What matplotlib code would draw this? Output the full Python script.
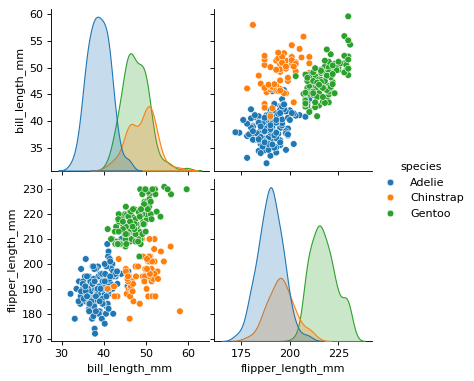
import matplotlib
matplotlib.use("Agg")
import matplotlib.pyplot as plt
import seaborn as sns
import pandas as pd

adelie_bill = [39.1,39.5,40.3,36.7,39.3,38.9,39.2,34.1,42.0,37.8,37.8,41.1,38.6,34.6,36.6,38.7,42.5,34.4,46.0,37.8,
               37.7,35.9,38.2,38.8,35.3,40.6,40.5,37.9,40.5,39.5,37.2,39.5,40.9,36.4,39.2,38.8,42.2,37.6,39.8,36.5,
               40.8,36.0,44.1,37.0,39.6,41.1,37.5,36.0,42.3,39.6,40.1,35.0,42.0,34.5,41.4,39.0,40.6,36.5,37.6,35.7,
               41.3,37.6,41.1,36.4,41.6,35.5,41.1,35.9,41.8,33.5,39.7,39.6,45.8,35.5,42.8,40.9,37.2,36.2,42.1,34.6,
               42.9,36.7,35.1,37.3,41.3,36.3,36.9,38.3,38.9,35.7,41.1,34.0,39.6,36.2,40.8,38.1,40.3,33.1,43.2,35.0,
               41.0,37.7,37.8,37.9,39.7,38.6,38.2,38.1,43.2,38.1,45.6,39.7,42.2,39.6,42.7,38.6,37.3,35.7,41.1,36.2,
               37.7,40.2,41.4,35.2,40.6,38.8,41.5,39.0,44.1,38.5,43.1,36.8,37.5,38.1,41.1,35.6,40.2,37.0,39.7,40.2,
               40.6,32.1,40.7,37.3,39.0,39.2,36.6,36.0,37.8,36.0,41.5]
adelie_flipper = [181,186,195,193,190,181,195,193,190,186,180,182,191,198,185,195,197,184,194,174,
                  180,189,185,180,187,183,187,172,180,178,178,188,184,195,196,190,180,181,184,182,
                  195,186,196,185,190,182,179,190,191,186,188,190,200,187,191,186,193,181,194,185,
                  195,185,192,184,192,195,188,190,198,190,190,196,197,190,195,191,184,187,195,189,
                  196,187,193,191,194,190,189,189,190,202,205,185,186,187,208,190,196,178,192,192,
                  203,183,190,193,184,199,190,181,197,198,191,193,197,191,196,188,199,189,189,187,
                  198,176,202,186,199,191,195,191,210,190,197,193,199,187,190,191,200,185,193,193,
                  187,188,190,192,185,190,184,195,193,187,201]

chinstrap_bill = [46.5,50.0,51.3,45.4,52.7,45.2,46.1,51.3,46.0,51.3,46.6,51.7,47.0,52.0,45.9,50.5,50.3,58.0,46.4,49.2,
                  42.4,48.5,43.2,50.6,46.7,52.0,50.5,49.5,46.4,52.8,40.9,54.2,42.5,51.0,49.7,47.5,47.6,52.0,46.9,53.5,
                  49.0,46.2,50.9,45.5,50.9,50.8,50.1,49.0,51.5,49.8,48.1,51.4,45.7,50.7,52.2,45.2,49.3,50.2,45.6,51.9,
                  46.8,45.7,55.8,43.5,49.6,50.8,50.2]
chinstrap_flipper = [192,196,193,188,197,198,178,197,195,198,193,194,185,201,190,201,197,181,190,195,
                     191,184,187,195,189,196,187,193,191,194,190,201,187,203,195,199,195,210,192,205,
                     210,187,196,196,196,201,190,212,187,198,199,201,193,203,187,197,203,202,194,206,
                     189,195,207,202,193,210,198]

gentoo_bill = [46.1,50.0,48.7,50.0,47.6,46.5,45.4,46.7,43.3,46.8,40.9,49.0,45.5,48.4,45.8,49.3,42.0,49.2,46.2,48.7,
               50.2,45.1,46.5,46.3,42.9,46.1,44.5,47.8,48.2,50.0,47.3,42.8,45.1,59.6,49.1,48.4,42.6,44.4,44.0,48.7,
               42.7,49.6,45.3,49.6,50.5,43.6,45.5,50.5,44.9,45.2,46.6,48.5,45.1,50.1,46.5,45.0,43.8,45.5,43.2,50.4,
               45.3,46.2,45.7,54.3,45.8,49.8,46.2,49.5,43.5,50.7,47.7,46.4,48.2,46.5,46.4,48.6,47.5,51.1,45.2,45.2,
               49.1,52.5,47.4,50.0,44.9,50.8,43.4,51.3,47.5,52.1,47.5,52.2,45.5,49.5,44.5,50.8,49.4,46.9,48.4,51.1,
               48.5,55.9,47.2,49.1,47.3,46.8,41.7,53.4,43.3,48.1,50.5,49.8,43.5,51.5,46.2,55.1,44.5,48.8,47.2,46.8,
               50.4,45.2,49.9]
gentoo_flipper = [211,230,210,218,215,210,211,219,209,215,214,216,214,213,210,217,210,221,209,222,
                  218,215,213,215,215,215,216,215,210,220,222,209,207,230,220,220,213,219,208,208,
                  208,225,210,216,222,217,210,225,213,215,210,220,210,225,217,220,208,220,208,224,
                  208,221,214,231,219,230,214,229,220,223,216,221,221,217,216,230,209,220,215,223,
                  212,221,212,224,212,228,218,218,212,230,218,228,212,224,214,226,216,222,203,225,
                  219,228,215,228,216,215,210,219,208,209,229,230,213,230,217,230,217,222,214,215,
                  222,212,213]

species = ["Adelie", "Chinstrap", "Gentoo"]

df = pd.concat([
    pd.DataFrame({"species": "Adelie", "bill_length_mm": adelie_bill, "flipper_length_mm": adelie_flipper}),
    pd.DataFrame({"species": "Chinstrap", "bill_length_mm": chinstrap_bill, "flipper_length_mm": chinstrap_flipper}),
    pd.DataFrame({"species": "Gentoo", "bill_length_mm": gentoo_bill, "flipper_length_mm": gentoo_flipper}),
], ignore_index=True)

g = sns.pairplot(df, hue="species", hue_order=species,
                 vars=["bill_length_mm", "flipper_length_mm"], height=2.5)
fig = g.figure
fig.set_size_inches(474 / 80, 381 / 80)
fig.subplots_adjust(left=51 / 474, right=372 / 474, top=1 - 9 / 381, bottom=1 - 341 / 381,
                    wspace=0.035, hspace=0.055)
g._legend.set_bbox_to_anchor((1.0, 0.5))
fig.savefig("out.png", dpi=80)
